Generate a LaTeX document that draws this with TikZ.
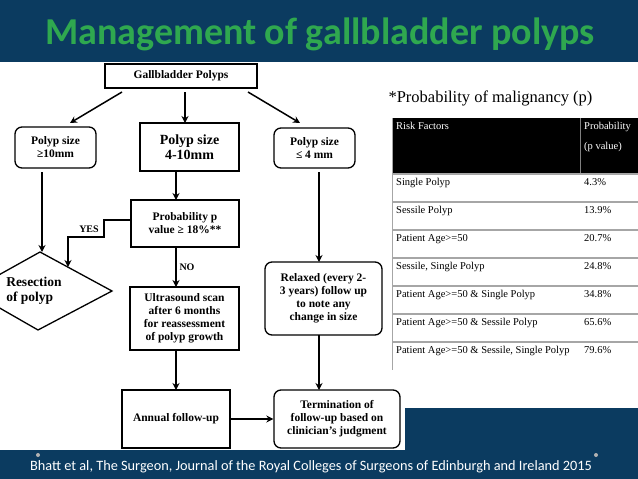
\documentclass[tikz,border=0pt]{standalone}
\usepackage{fontspec}
\setmainfont{Liberation Serif}
\newfontfamily\titlefont{Carlito}
\usetikzlibrary{arrows.meta}
\definecolor{bg}{HTML}{0B3B60}
\definecolor{ttl}{HTML}{2FA84F}
\begin{document}
\begin{tikzpicture}[x=1pt,y=-1pt,
  fbox/.style={draw,line width=1.3pt,align=center,font=\bfseries\fontsize{11.5}{13}\selectfont,inner sep=1pt},
  rbox/.style={fbox,rounded corners=7pt},
  arr/.style={line width=1.5pt,-{Stealth[length=7pt,width=7pt]}},
  cell/.style={anchor=north west,font=\fontsize{10.5}{11}\selectfont,inner sep=2pt}]
\useasboundingbox (0,0) rectangle (638,479);
\fill[bg] (0,0) rectangle (638,479);
\node[text=ttl,font=\titlefont\bfseries\fontsize{38}{40}\selectfont] (title) at (320,34) {Management of gallbladder polyps};
\fill[white] (0,62) rectangle (405,450);
\fill[white] (385,62) rectangle (638,408);
% flowchart
\node[fbox,minimum width=152pt,minimum height=24pt] (gp) at (181,76) {Gallbladder Polyps};
\node[rbox,minimum width=81pt,minimum height=41pt] (p10) at (55.5,147.5) {Polyp size\\≥10mm};
\node[fbox,minimum width=99pt,minimum height=48pt,font=\bfseries\fontsize{14}{15}\selectfont] (p4) at (189.5,147) {Polyp size\\4-10mm};
\node[rbox,minimum width=81pt,minimum height=40pt] (p0) at (314.5,148) {Polyp size\\≤ 4 mm};
\node[fbox,minimum width=108pt,minimum height=47pt] (pr) at (185,223.5) {Probability p\\value ≥ 18\%**};
\draw[line width=1.3pt] (-30,291) -- (40,252) -- (112,291) -- (38,330) -- cycle;
\node[font=\bfseries\fontsize{13.5}{15}\selectfont,align=left] (res) at (34,291) {Resection\\of polyp};
\coordinate (rtop) at (68,267);
\node[fbox,minimum width=109pt,minimum height=63pt] (us) at (184.5,318.5) {Ultrasound scan\\after 6 months\\for reassessment\\of polyp growth};
\node[rbox,minimum width=117pt,minimum height=73pt] (rel) at (323.5,298.5) {Relaxed (every 2-\\3 years) follow up\\to note any\\change in size};
\node[fbox,minimum width=108pt,minimum height=58pt] (an) at (176,419) {Annual follow-up};
\node[rbox,minimum width=126pt,minimum height=58pt] (tm) at (337,419) {Termination of\\follow-up based on\\clinician's judgment};
\draw[arr] (122,92) -- (70,123);
\draw[arr] (185,92) -- (185,123);
\draw[arr] (248,92) -- (300,123);
\draw[arr] (42,172) -- (42,252);
\draw[arr] (176,171) -- (176,200);
\draw[arr] (131,220) -- (104,220) -- (104,237) -- (68,237) -- (rtop);
\node[font=\bfseries\fontsize{10}{11}\selectfont] (yes) at (89,229) {YES};
\draw[arr] (176,247) -- (176,287);
\node[font=\bfseries\fontsize{10}{11}\selectfont] (no) at (187,267) {NO};
\draw[arr] (176,350) -- (176,390);
\draw[arr] (319,172) -- (319,262);
\draw[arr] (319,335) -- (319,390);
\draw[arr] (an.east) -- (tm.west);
% table
\node[anchor=west,font=\fontsize{16.5}{18}\selectfont] (tt) at (385,98) {*Probability of malignancy (p)};
\fill[black] (392,118) rectangle (638,174);
\node[cell,text=white] (h1) at (394,120) {Risk Factors};
\node[cell,text=white,align=left,font=\fontsize{10.5}{20}\selectfont] (h2) at (582,120) {Probability\\(p value)};
\draw[gray] (580,118) -- (580,174);
\foreach \t/\v [count=\i] in {Single Polyp/4.3\%,Sessile Polyp/13.9\%,Patient Age>=50/20.7\%,{Sessile, Single Polyp}/24.8\%,Patient Age>=50 \& Single Polyp/34.8\%,Patient Age>=50 \& Sessile Polyp/65.6\%,{Patient Age>=50 \& Sessile, Single Polyp}/79.6\%}{
  \pgfmathsetmacro\yy{174+(\i-1)*28}
  \draw[gray!70,line width=1.5pt] (392,\yy) -- (638,\yy);
  \node[cell] (r\i) at (394,\yy+2) {\t};
  \node[cell] (v\i) at (582,\yy+2) {\v};
}
\draw[gray!70,line width=1pt] (392,118) -- (392,370);
% footer
\fill[gray!60] (38,455) circle (2);
\fill[gray!60] (596,455) circle (2);
\node[text=white,font=\titlefont\fontsize{14.3}{16}\selectfont] (cap) at (311,467) {Bhatt et al, The Surgeon, Journal of the Royal Colleges of Surgeons of Edinburgh and Ireland 2015};
\end{tikzpicture}
\end{document}
